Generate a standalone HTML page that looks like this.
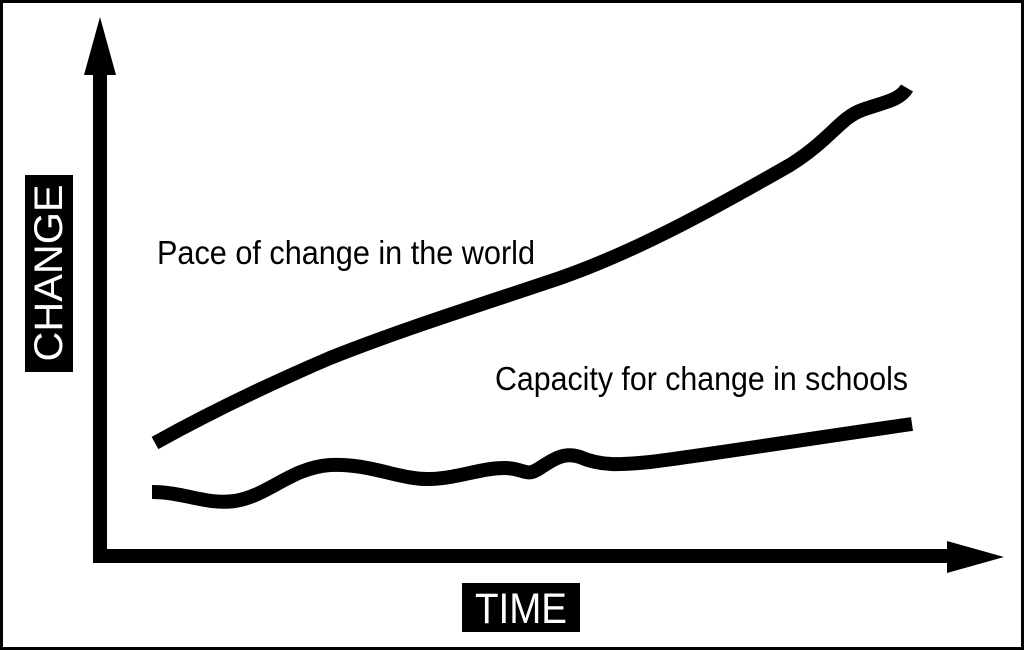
<!DOCTYPE html>
<html><head><style>html,body{margin:0;padding:0;background:#fff}svg{display:block}</style></head><body>
<svg width="1024" height="650" viewBox="0 0 1024 650" xmlns="http://www.w3.org/2000/svg">
<rect x="1.5" y="1.5" width="1021" height="647" fill="#fff" stroke="#000" stroke-width="3"/>
<rect x="93" y="70" width="14" height="493" fill="#000"/>
<polygon points="100,17 84,75 116,75" fill="#000"/>
<rect x="93" y="549" width="860" height="14" fill="#000"/>
<polygon points="1004,557 947,541 947,573" fill="#000"/>
<path d="M155,443 C200,418 260,388 330,358 C400,330 480,305 560,278 C640,250 720,205 790,165 C830,140 840,118 862,110 C885,102 900,100 907,88" fill="none" stroke="#000" stroke-width="14"/>
<path d="M152,492 C185,492 205,505 235,501 C270,495 290,468 330,465 C370,463 400,480 430,479 C460,478 480,468 505,468 C525,468 525,478 540,468 C555,458 565,452 580,457 C600,466 620,465 650,462 C700,456 800,440 912,424" fill="none" stroke="#000" stroke-width="14"/>
<rect x="25" y="175" width="48" height="197" fill="#000"/>
<text transform="translate(62,273) rotate(-90)" text-anchor="middle" font-family="Liberation Sans, sans-serif" font-size="40" fill="#fff" textLength="177" lengthAdjust="spacingAndGlyphs">CHANGE</text>
<rect x="462" y="583" width="118" height="49" fill="#000"/>
<text x="521" y="623" text-anchor="middle" font-family="Liberation Sans, sans-serif" font-size="43" fill="#fff" textLength="92" lengthAdjust="spacingAndGlyphs">TIME</text>
<text x="157" y="264" font-family="Liberation Sans, sans-serif" font-size="33" fill="#000" textLength="378" lengthAdjust="spacingAndGlyphs">Pace of change in the world</text>
<text x="495" y="390" font-family="Liberation Sans, sans-serif" font-size="33" fill="#000" textLength="413" lengthAdjust="spacingAndGlyphs">Capacity for change in schools</text>
</svg>
</body></html>
